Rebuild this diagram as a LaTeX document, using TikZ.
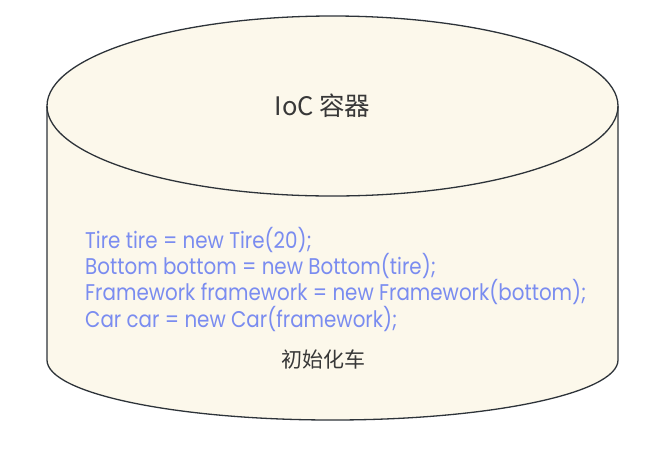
\documentclass[tikz,border=0pt]{standalone}
\usepackage{fontspec}
\newfontfamily\cjk{Noto Sans CJK SC}
\newfontfamily\codefont[FakeStretch=0.875]{Poppins}
\definecolor{cylfill}{HTML}{FCF8EB}
\definecolor{cylline}{HTML}{2D3339}
\definecolor{codeblue}{HTML}{7A8CF0}
\definecolor{titlegray}{HTML}{383838}
\begin{document}
\begin{tikzpicture}[x=1pt,y=1pt,
  cyl/.style={draw=cylline,line width=1.3pt},
  codeline/.style={anchor=base west,inner sep=0pt,text=codeblue,font=\codefont\fontsize{22.7}{26}\selectfont},
  titletext/.style={inner sep=0pt,text=titlegray}]
\useasboundingbox (0,0) rectangle (671,-456);
% body fill
\fill[cylfill] (47,-106) -- (47,-360)
  arc[start angle=180,end angle=360,x radius=285.5pt,y radius=60pt]
  -- (618,-106) -- cycle;
\fill[cylfill] (332.5,-106) ellipse[x radius=285.5pt,y radius=90pt];
% outline
\draw[cyl] (332.5,-106) ellipse[x radius=285.5pt,y radius=90pt];
\draw[cyl] (47,-106) -- (47,-360)
  arc[start angle=180,end angle=360,x radius=285.5pt,y radius=60pt]
  -- (618,-106);
% texts
\node[titletext,font=\cjk\fontsize{25.5}{30}\selectfont] (title) at (322.5,-106) {IoC 容器};
\node[codeline] (l1) at (85,-248.3) {Tire tire = new Tire(20);};
\node[codeline] (l2) at (85,-274.6) {Bottom bottom = new Bottom(tire);};
\node[codeline] (l3) at (85,-300.9) {Framework framework = new Framework(bottom);};
\node[codeline] (l4) at (85,-327.2) {Car car = new Car(framework);};
\node[titletext,font=\cjk\fontsize{21}{25}\selectfont] (init) at (323,-359) {初始化车};
\end{tikzpicture}
\end{document}
